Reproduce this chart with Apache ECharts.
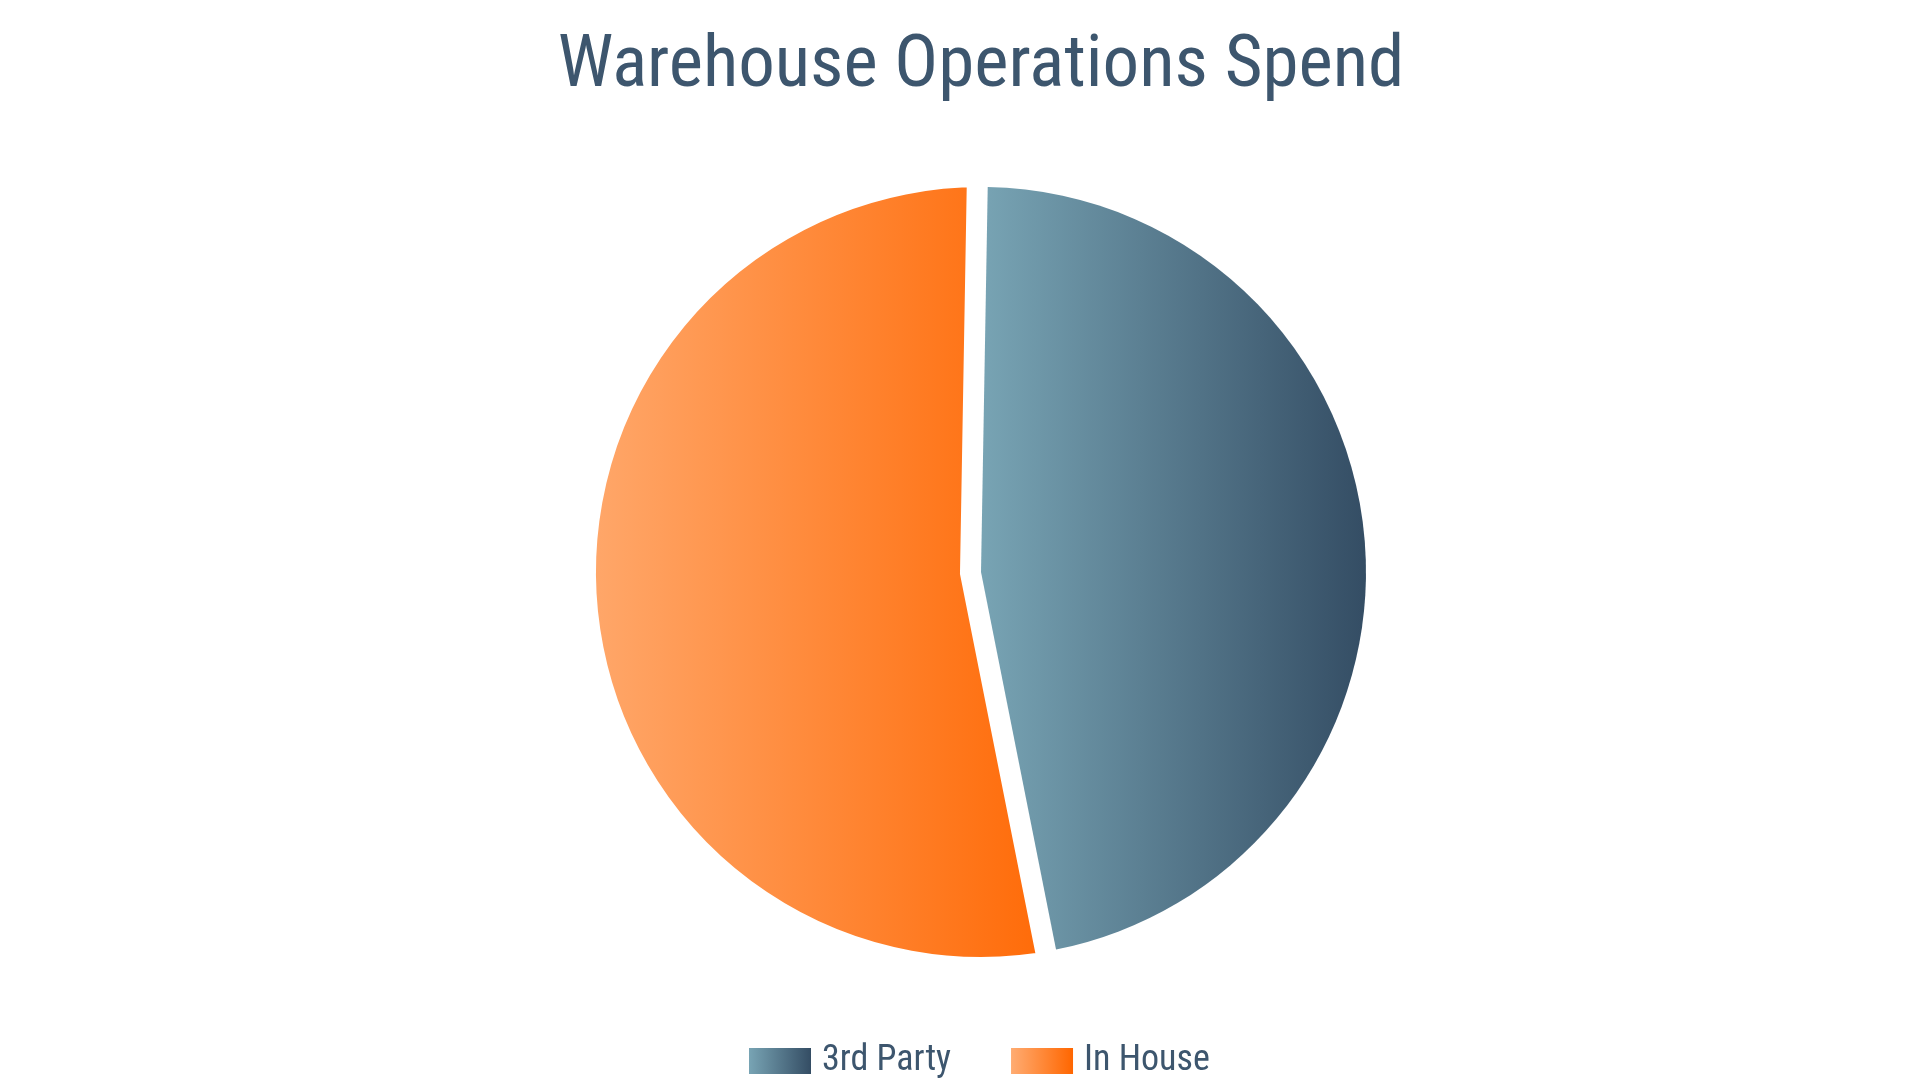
<!DOCTYPE html>
<html>
<head>
<meta charset="utf-8">
<script src="https://cdn.jsdelivr.net/npm/echarts@6/dist/echarts.min.js"></script>
<style>
html,body{margin:0;padding:0;background:#fff;overflow:hidden;}
#chart{width:1921px;height:1080px;}
</style>
</head>
<body>
<div id="chart"></div>
<script>
const titleText = 'Warehouse Operations Spend';
const categories = ['3rd Party', 'In House'];
const values = [46.6, 53.4];
const gradientStops = [
  ['#78A4B4', '#344D64'],
  ['#FFAC72', '#FF6600']
];

const FONT = "'Roboto Condensed', 'Liberation Sans Narrow', 'Roboto', sans-serif";
const TEXT_COLOR = '#3D566E';
const CENTER = [981, 572];
const R = 385;
const GAP = 21;

function grad(stops) {
  return new echarts.graphic.LinearGradient(0, 0, 1, 0, [
    { offset: 0, color: stops[0] },
    { offset: 1, color: stops[1] }
  ]);
}

// Each series shows one slice; the other slice is transparent.
function pieSeries(visibleIndex, radius, border, z) {
  return {
    type: 'pie',
    center: CENTER,
    radius: radius,
    startAngle: 89,
    clockwise: true,
    z: z,
    silent: true,
    label: { show: false },
    labelLine: { show: false },
    emphasis: { disabled: true },
    data: categories.map((c, i) => ({
      name: c,
      value: values[i],
      itemStyle: i === visibleIndex
        ? { color: grad(gradientStops[i]), borderColor: '#ffffff', borderWidth: border, borderJoin: 'miter' }
        : { color: 'rgba(0,0,0,0)', borderWidth: 0 }
    }))
  };
}

const chart = echarts.init(document.getElementById('chart'), null, { renderer: 'canvas' });
chart.setOption({
  animation: false,
  backgroundColor: '#ffffff',
  title: {
    text: titleText,
    left: 976,
    textAlign: 'center',
    top: 26,
    textStyle: { fontFamily: FONT, fontSize: 73, fontWeight: 'normal', color: TEXT_COLOR }
  },
  legend: {
    left: 744,
    top: 1038,
    itemWidth: 62,
    itemHeight: 26,
    itemGap: 60,
    icon: 'rect',
    data: categories.map((c, i) => ({ name: c, itemStyle: { color: grad(gradientStops[i]), borderWidth: 0 } })),
    textStyle: { fontFamily: FONT, fontSize: 36, color: TEXT_COLOR, padding: [0, 0, 0, 6] }
  },
  series: [
    pieSeries(1, R + GAP, GAP * 2, 2),
    pieSeries(0, R, 0, 3)
  ]
});
</script>
</body>
</html>
